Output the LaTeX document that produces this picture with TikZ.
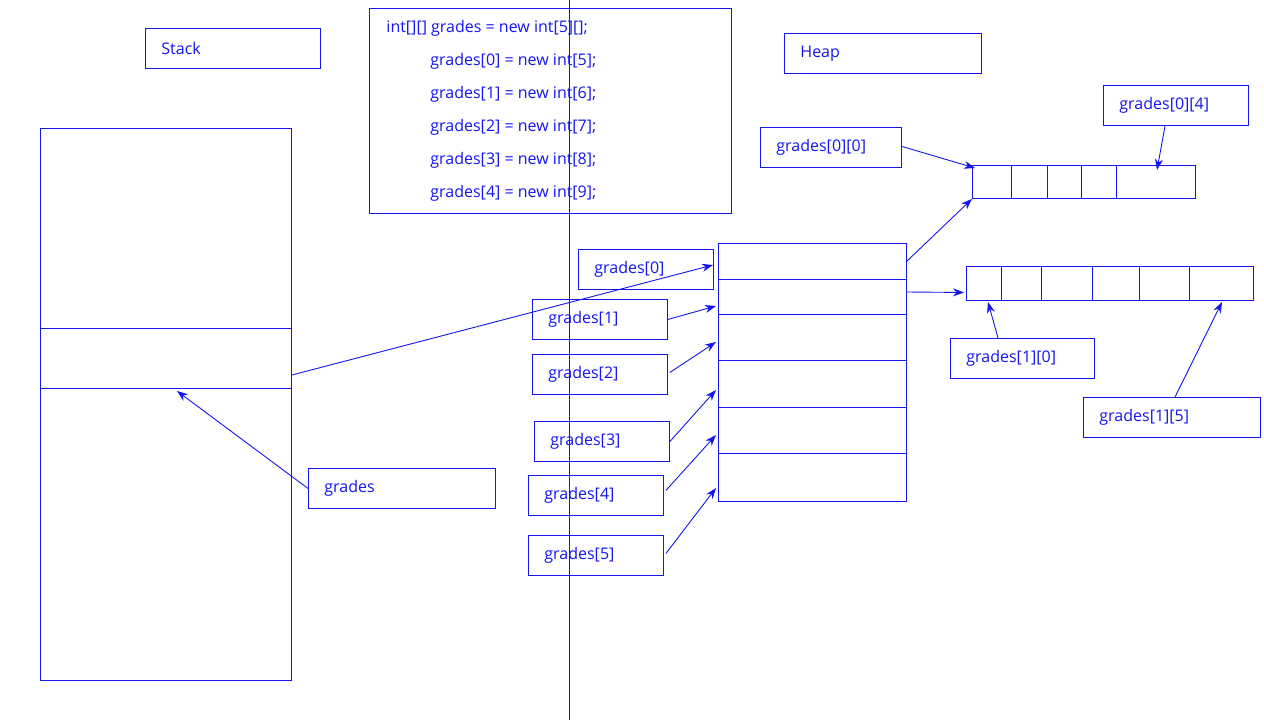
\documentclass[tikz,border=0pt]{standalone}
\usepackage{fontspec}
\setmainfont{Open Sans}
\usetikzlibrary{calc,arrows.meta}
\definecolor{ink}{RGB}{20,20,240}
\begin{document}
\begin{tikzpicture}[x=1pt,y=-1pt,font=\fontsize{16}{19}\selectfont,
  line width=0.9pt,draw=ink,text=ink,
  lbl/.style={draw,anchor=north west,inner xsep=16pt,align=left,
    minimum height=40pt,text width=#1-32pt},
  ptr/.style={draw,-{Stealth[length=11pt,width=8pt]}}]
\useasboundingbox (0,0) rectangle (1264,720);
% titles and code
\node[lbl=175pt] (stacklbl) at (145,28) {Stack};
\node[lbl=197pt] (heaplbl) at (784,33) {Heap};
\node[draw,anchor=north west,minimum width=362pt,minimum height=205pt] (code) at (369,8) {};
\foreach \T [count=\i] in {{grades[0] = new int[5];},{grades[1] = new int[6];},
  {grades[2] = new int[7];},{grades[3] = new int[8];},{grades[4] = new int[9];}}
  \node[anchor=west,inner sep=0pt] (code-\i) at (430,28+33*\i) {\T};
\node[anchor=west,inner sep=0pt] (code-0) at (386,28) {int[][] grades = new int[5][];};
% stack
\node[draw,anchor=north west,minimum width=251pt,minimum height=552pt] (stack) at (40,128) {};
\draw (stack.west |- 0,328) coordinate (s1) -- (stack.east |- 0,328);
\draw (stack.west |- 0,388) -- (stack.east |- 0,388) coordinate (s2);
\draw (569,0) coordinate (vtop) -- (569,720);
% outer array
\node[draw,anchor=north west,minimum width=188pt,minimum height=258pt] (arr) at (718,243) {};
\foreach \y in {279,314,360,407,453}
  \draw (arr.west |- 0,\y) -- (arr.east |- 0,\y);
% labels of the slots
\node[lbl=135pt] (g0) at (578,249) {grades[0]};
\node[lbl=135pt] (g1) at (532,299) {grades[1]};
\node[lbl=135pt] (g2) at (532,354) {grades[2]};
\node[lbl=135pt] (g3) at (534,421) {grades[3]};
\node[lbl=135pt] (g4) at (528,475) {grades[4]};
\node[lbl=135pt] (g5) at (528,535) {grades[5]};
\draw[ptr] ($(g1.east)+(0,0)$) -- (716,306);
\draw[ptr] ($(g2.east)+(2,-2)$) -- (716,342);
\draw[ptr] (g3.east) -- (716,390);
\draw[ptr] ($(g4.east)+(2,-5)$) -- (716,435);
\draw[ptr] ($(g5.east)+(2,-2)$) -- (716,488);
\draw[ptr] (stack.east |- 0,375) -- (713,265);
\node[lbl=187pt] (gr) at (308,468) {grades};
\draw[ptr] (gr.west) -- (177,391);
% inner arrays
\node[draw,anchor=north west,minimum width=223pt,minimum height=33pt] (row0) at (972,165) {};
\foreach \x in {1011,1047,1081,1116}
  \draw (\x,0 |- row0.north) -- (\x,0 |- row0.south);
\node[draw,anchor=north west,minimum width=287pt,minimum height=34pt] (row1) at (966,266) {};
\foreach \x in {1001,1041,1092,1139,1189}
  \draw (\x,0 |- row1.north) -- (\x,0 |- row1.south);
\draw[ptr] (906,262) -- (row0.south west);
\draw[ptr] (906,292) -- ($(row1.west)+(-2,9)$);
\node[lbl=141pt] (g00) at (760,127) {grades[0][0]};
\draw[ptr] ($(g00.east)+(0,-1)$) -- (975,168);
\node[lbl=145pt] (g04) at (1103,85) {grades[0][4]};
\draw[ptr] (1165,126) -- (1157,170);
\node[lbl=144pt] (g10) at (950,338) {grades[1][0]};
\draw[ptr] (998,338) -- (988,302);
\node[lbl=177pt] (g15) at (1083,397) {grades[1][5]};
\draw[ptr] (1175,397) -- (1222,302);
\end{tikzpicture}
\end{document}
